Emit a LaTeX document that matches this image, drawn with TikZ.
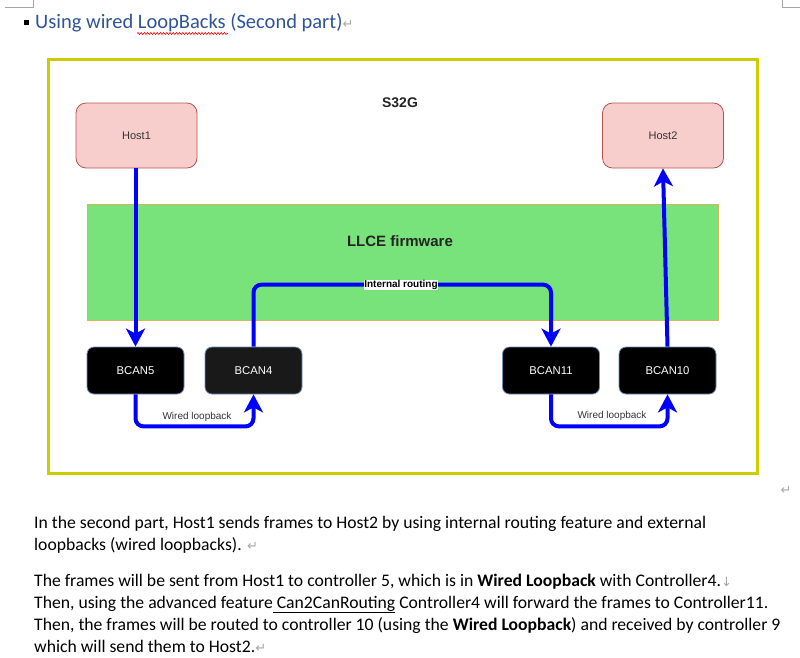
\documentclass[tikz,border=0pt]{standalone}
\usepackage{fontspec}
\setmainfont{Carlito}
\newfontfamily\arialf{Liberation Sans}
\newfontfamily\symf{DejaVu Sans}
\usetikzlibrary{arrows.meta,decorations.pathmorphing}
\definecolor{headblue}{HTML}{2F5496}
\definecolor{frameyel}{HTML}{CCCC00}
\definecolor{hostfill}{HTML}{F8CECC}
\definecolor{hostdraw}{HTML}{B85450}
\definecolor{fwgreen}{HTML}{78E37A}
\definecolor{fwdraw}{HTML}{D6B656}
\definecolor{canbord}{HTML}{6C8EBF}
\definecolor{markgray}{HTML}{A6A6A6}
\definecolor{flowblue}{HTML}{0000FF}
\definecolor{dtext}{HTML}{333333}
\newcommand{\retmark}{{\symf\fontsize{13}{13}\selectfont\color{markgray}↵}}
\newcommand{\brkmark}{{\symf\fontsize{13}{13}\selectfont\color{markgray}↓}}
\tikzset{
  host/.style={draw=hostdraw, fill=hostfill, rounded corners=10pt, line width=0.8pt,
    minimum width=121pt, minimum height=65pt, inner sep=0pt,
    font=\arialf\fontsize{11}{13}\selectfont, text=dtext},
  canbox/.style={draw=canbord, fill=black, rounded corners=7pt, line width=0.8pt,
    minimum width=97pt, minimum height=47pt, inner sep=0pt,
    font=\arialf\fontsize{11.3}{13}\selectfont, text=white},
  flow/.style={draw=flowblue, line width=4pt, rounded corners=8pt,
    -{Stealth[length=18pt,width=19pt,inset=5pt]}},
  smalllbl/.style={font=\arialf\fontsize{10}{12}\selectfont, text=dtext, inner sep=0.5pt},
  body/.style={anchor=base west, inner sep=0pt, font=\fontsize{17.65}{20}\selectfont, text=black},
  cornermark/.style={draw=markgray, line width=0.8pt}
}
\begin{document}
\begin{tikzpicture}[x=1pt,y=-1pt]
\useasboundingbox (0,0) rectangle (800,657);
% page corner marks
\draw[cornermark] (5,7) -- (33,7) -- (33,0);
\draw[cornermark] (782,0) -- (782,7) -- (800,7);
% heading
\fill[black] (24,20) rectangle (29,25);
\node[anchor=base west, inner sep=0pt, font=\fontsize{20.5}{22}\selectfont, text=headblue] (head) at (35,28)
  {Using wired LoopBacks (Second part)\retmark};
\draw[red, line width=0.6pt, decorate, decoration={snake, amplitude=1pt, segment length=3.2pt}] (137,33.5) -- (228,33.5);
% frame
\draw[frameyel, line width=3pt] (48,59) rectangle (757,473);
\node[font=\arialf\bfseries\fontsize{14}{16}\selectfont, text=dtext!70!black, inner sep=0pt] (s32g) at (400,103) {S32G};
% firmware
\node[draw=fwdraw, fill=fwgreen, line width=0.6pt, minimum width=631pt, minimum height=116pt, inner sep=0pt] (fw) at (402.5,262) {};
\node[font=\arialf\bfseries\fontsize{15}{17}\selectfont, text=dtext!70!black, inner sep=0pt] (fwlbl) at (400,241) {LLCE firmware};
% hosts
\node[host] (host1) at (136.5,135.5) {Host1};
\node[host] (host2) at (663,135.5) {Host2};
% controllers
\node[canbox] (bcan5) at (135.5,370.5) {BCAN5};
\node[canbox, fill=black!90] (bcan4) at (253.5,370.5) {BCAN4};
\node[canbox] (bcan11) at (551,370.5) {BCAN11};
\node[canbox] (bcan10) at (667.5,370.5) {BCAN10};
% connectors
\draw[flow] (host1.south -| bcan5.north) -- (bcan5.north);
\draw[flow] (bcan4.north) -- ++(0,-62) -| (bcan11.north);
\node[smalllbl, font=\arialf\bfseries\fontsize{10}{12}\selectfont, fill=white, text=black] (irl) at (401,285) {Internal routing};
\draw[flow] (bcan5.south) -- ++(0,32) -| (bcan4.south);
\node[smalllbl] (wl1) at (197,417) {Wired loopback};
\draw[flow] (bcan11.south) -- ++(0,32) -| (bcan10.south);
\node[smalllbl] (wl2) at (612,416) {Wired loopback};
\draw[flow, rounded corners=0pt] (bcan10.north) -- (host2.south);
% return mark after figure
\node[inner sep=0pt] (ret) at (786,490) {\retmark};
% paragraphs
\node[body] (p1) at (34,528) {In the second part, Host1 sends frames to Host2 by using internal routing feature and external};
\node[body] (p2) at (34,550) {loopbacks (wired loopbacks). \retmark};
\node[body] (p3) at (34,586) {The frames will be sent from Host1 to controller 5, which is in \textbf{Wired Loopback} with Controller4.\brkmark};
\node[body] (p4) at (34,608) {Then, using the advanced feature\underline{ Can2CanRouting} Controller4 will forward the frames to Controller11.};
\node[body] (p5) at (34,630) {Then, the frames will be routed to controller 10 (using the \textbf{Wired Loopback}) and received by controller 9};
\node[body] (p6) at (34,652) {which will send them to Host2.\retmark};
\end{tikzpicture}
\end{document}
